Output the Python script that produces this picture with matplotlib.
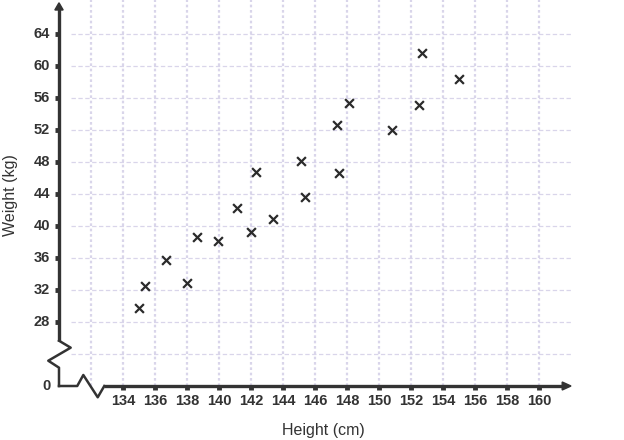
import matplotlib
matplotlib.use("Agg")
import matplotlib.pyplot as plt
import numpy as np

# data
height_cm = [135.0, 135.35, 136.7, 138.0, 138.6, 139.95, 141.1, 142.0, 142.3, 143.4,
             145.1, 145.4, 147.4, 147.5, 148.1, 150.8, 152.5, 152.7, 155.0]
weight_kg = [29.7, 32.5, 35.75, 32.9, 38.6, 38.1, 42.3, 39.3, 46.7, 40.9,
             48.1, 43.6, 52.6, 46.6, 55.4, 52.0, 55.1, 61.6, 58.4]

x_ticks = list(range(134, 161, 2))
y_ticks = list(range(28, 65, 4))
x_label = "Height (cm)"
y_label = "Weight (kg)"

AXIS = "#333333"
GRID = "#d9d5ea"
BASE_Y = 20      # where the broken y axis meets the x axis ("0")
BASE_X = 130     # where the broken x axis meets the y axis

fig = plt.figure(figsize=(6.24, 4.4), dpi=100)
ax = fig.add_axes([0, 0, 1, 1])
ax.set_xlim(126.3125, 165.3125)
ax.set_ylim(13.25, 68.25)
ax.axis("off")

# grid
for gx in range(132, 161, 2):
    ax.plot([gx, gx], [BASE_Y, 68.25], color=GRID, lw=1.6, ls=(0, (1.2, 1.2)), zorder=1)
for gy in range(24, 65, 4):
    ax.plot([130.75, 162], [gy, gy], color=GRID, lw=0.9, ls=(0, (3.5, 2)), zorder=1)

# y axis with break
ax.plot([BASE_X, BASE_X], [25.66, 67.1], color=AXIS, lw=2.4, zorder=3, solid_capstyle="butt")
ax.plot([BASE_X, 130.73, 129.33, BASE_X, BASE_X],
        [25.66, 24.79, 23.16, 22.29, BASE_Y], color=AXIS, lw=1.8, zorder=3)
ax.fill([129.74, 130.26, BASE_X], [67.0, 67.0, 67.9], color=AXIS, zorder=3)

# x axis with break
ax.plot([BASE_X, 131.14, 131.52, 132.42, 132.83], [BASE_Y, BASE_Y, 21.375, 18.59, BASE_Y],
        color=AXIS, lw=1.8, zorder=3)
ax.plot([132.83, 161.5], [BASE_Y, BASE_Y], color=AXIS, lw=2.4, zorder=3, solid_capstyle="butt")
ax.fill([161.45, 161.45, 162.0], [19.5, 20.5, BASE_Y], color=AXIS, zorder=3)

# ticks and tick labels
for t in y_ticks:
    ax.plot([129.72, BASE_X], [t, t], color=AXIS, lw=3.5, solid_capstyle="butt", zorder=3)
    ax.text(129.45, t, str(t), ha="right", va="center", fontsize=10.5,
            fontweight="bold", color=AXIS, family="Liberation Sans")
ax.text(129.45, BASE_Y, "0", ha="right", va="center", fontsize=10.5,
        fontweight="bold", color=AXIS, family="Liberation Sans")
for t in x_ticks:
    ax.plot([t, t], [BASE_Y, 19.5], color=AXIS, lw=3.5, solid_capstyle="butt", zorder=3)
    ax.text(t, 18.1, str(t), ha="center", va="center", fontsize=10.5,
            fontweight="bold", color=AXIS, family="Liberation Sans")

ax.text(146.5, 14.5, x_label, ha="center", va="center", fontsize=11.5,
        color=AXIS, family="Liberation Sans")
ax.text(126.95, 43.9, y_label, ha="center", va="center", fontsize=11.5,
        rotation=90, color=AXIS, family="Liberation Sans")

# data points
ax.scatter(height_cm, weight_kg, marker="x", s=40, color="#2b2b2b", linewidths=1.6, zorder=4)

fig.savefig("out.png", dpi=100)
